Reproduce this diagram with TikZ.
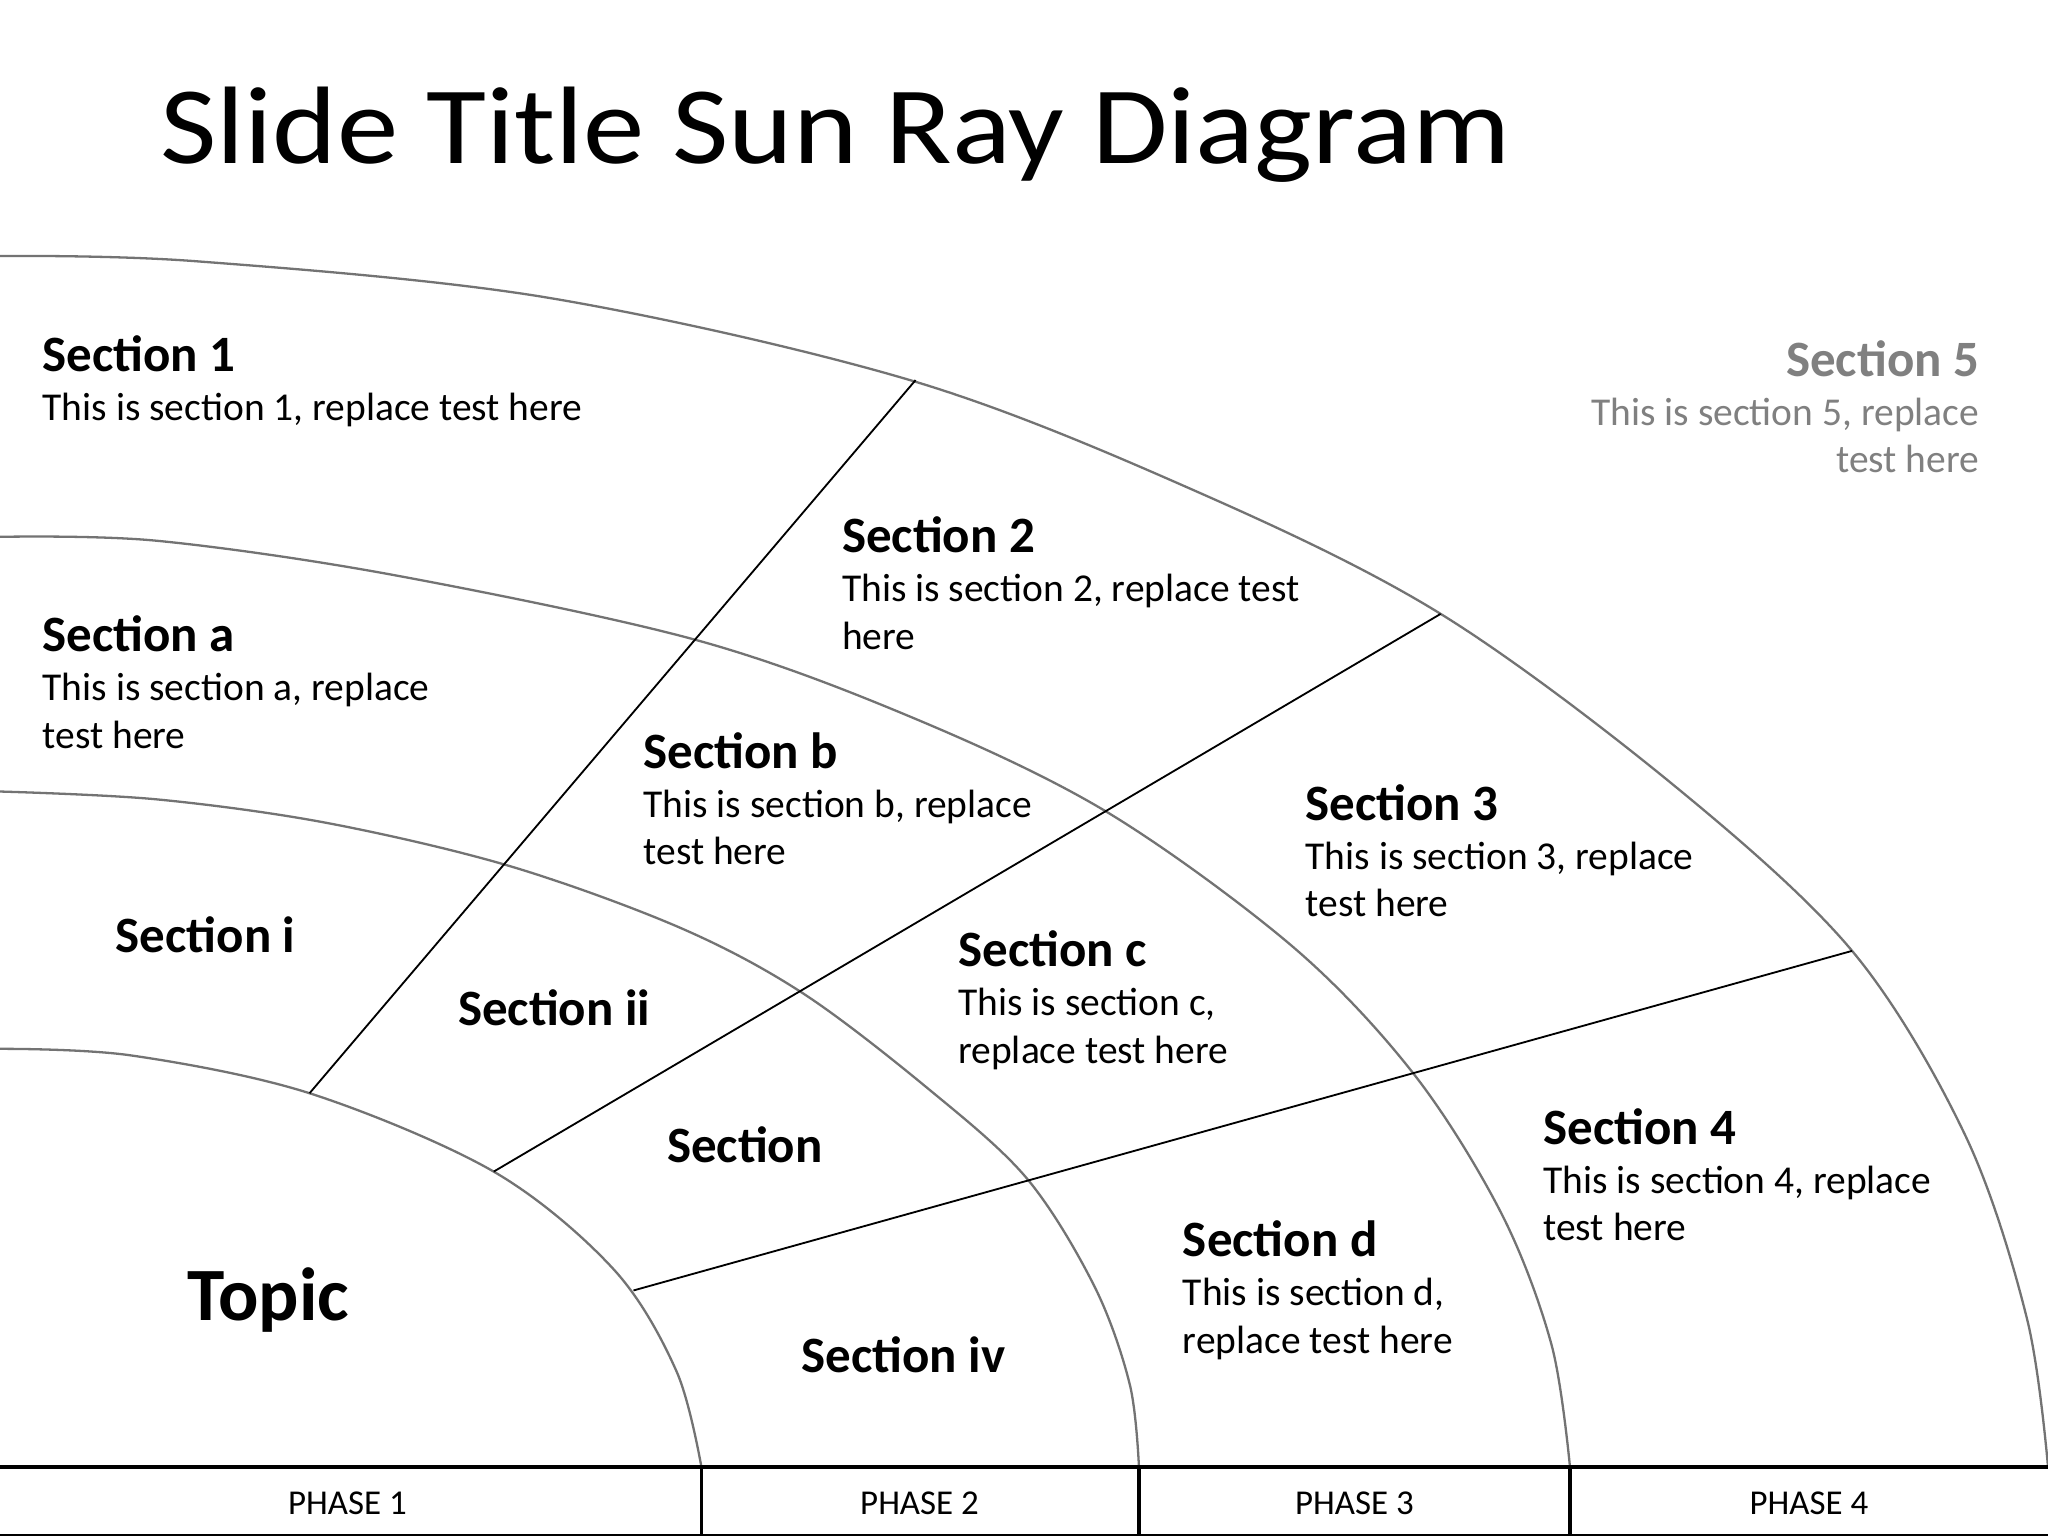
\documentclass[tikz,border=0pt]{standalone}
\usepackage{fontspec}
\setmainfont{Carlito}
\begin{document}
\begin{tikzpicture}[x=0.1mm,y=-0.1mm,
  arc/.style={draw=black!55,line width=0.5pt},
  ray/.style={draw=black,line width=0.4pt},
  hd/.style={anchor=north west,align=left,font=\fontsize{11.1}{12.5}\selectfont\bfseries,inner sep=0pt},
  tx/.style={anchor=north west,align=left,font=\fontsize{8.6}{10.3}\selectfont,inner sep=0pt},
  ph/.style={font=\fontsize{7.6}{9}\selectfont}]
\useasboundingbox[fill=white] (0,0) rectangle (1568,1176);
\node[anchor=base west,inner sep=0pt,font=\fontsize{24}{28}\selectfont] (title) at (122,125) {\scalebox{1.115}[1]{Slide Title Sun Ray Diagram}};
% arcs
\draw[arc] plot[smooth,tension=0.55] coordinates {(0,196) (150,200) (420,228) (700,292) (920,378) (1103,470) (1280,600) (1418,728) (1505,870) (1552,1010) (1568,1123)};
\draw[arc] plot[smooth,tension=0.55] coordinates {(0,411) (120,414) (300,440) (533,490) (700,550) (848,622) (990,725) (1083,823) (1150,930) (1188,1030) (1202,1123)};
\draw[arc] plot[smooth,tension=0.55] coordinates {(0,606) (120,612) (250,630) (390,663) (520,710) (614,760) (710,833) (786,902) (838,985) (865,1060) (872,1123)};
\draw[arc] plot[smooth,tension=0.55] coordinates {(0,803) (100,808) (237,837) (378,897) (470,972) (518,1050) (537,1123)};
% rays
\coordinate (r1a) at (237,837); \coordinate (r1b) at (701,291);
\coordinate (r2a) at (378,897); \coordinate (r2b) at (1103,470);
\coordinate (r3a) at (485,988); \coordinate (r3b) at (1418,728);
\draw[ray] (r1a) -- (r1b);
\draw[ray] (r2a) -- (r2b);
\draw[ray] (r3a) -- (r3b);
% phase bar
\draw[line width=0.8pt] (0,1123) -- (1568,1123);
\draw[line width=0.5pt] (0,1175) -- (1568,1175);
\foreach \x in {537,872,1202} \draw[line width=0.8pt] (\x,1123) -- (\x,1176);
\node[ph] (p1) at (266,1151) {PHASE 1};
\node[ph] (p2) at (704,1151) {PHASE 2};
\node[ph] (p3) at (1037,1151) {PHASE 3};
\node[ph] (p4) at (1385,1151) {PHASE 4};
% texts
\node[hd] (s1) at (32,256) {Section 1};
\node[tx] (t1) at (32,300) {This is section 1, replace test here};
\node[hd] (sa) at (32,471) {Section a};
\node[tx] (ta) at (32,515) {This is section a, replace\\test here};
\node[hd] (si) at (88,701) {Section i};
\node[hd] (s2) at (644,395) {Section 2};
\node[tx] (t2) at (644,439) {This is section 2, replace test\\here};
\node[hd] (sb) at (492,560) {Section b};
\node[tx] (tb) at (492,604) {This is section b, replace\\test here};
\node[hd] (sii) at (350,757) {Section ii};
\node[hd] (s3) at (999,600) {Section 3};
\node[tx] (t3) at (999,644) {This is section 3, replace\\test here};
\node[hd] (sc) at (733,712) {Section c};
\node[tx] (tc) at (733,756) {This is section c,\\replace test here};
\node[hd] (siii) at (510,862) {Section};
\node[hd] (s4) at (1181,848) {Section 4};
\node[tx] (t4) at (1181,892) {This is section 4, replace\\test here};
\node[hd] (sd) at (905,934) {Section d};
\node[tx] (td) at (905,978) {This is section d,\\replace test here};
\node[hd] (siv) at (613,1023) {Section iv};
\node[anchor=north west,inner sep=0pt,font=\fontsize{16.4}{18}\selectfont\bfseries] (topic) at (143,970) {Topic};
\node[anchor=north east,align=right,inner sep=0pt,font=\fontsize{11.1}{12.5}\selectfont\bfseries,text=black!50] (s5) at (1516,260) {Section 5};
\node[anchor=north east,align=right,inner sep=0pt,font=\fontsize{8.6}{10.3}\selectfont,text=black!50] (t5) at (1516,304) {This is section 5, replace\\test here};
\end{tikzpicture}
\end{document}
